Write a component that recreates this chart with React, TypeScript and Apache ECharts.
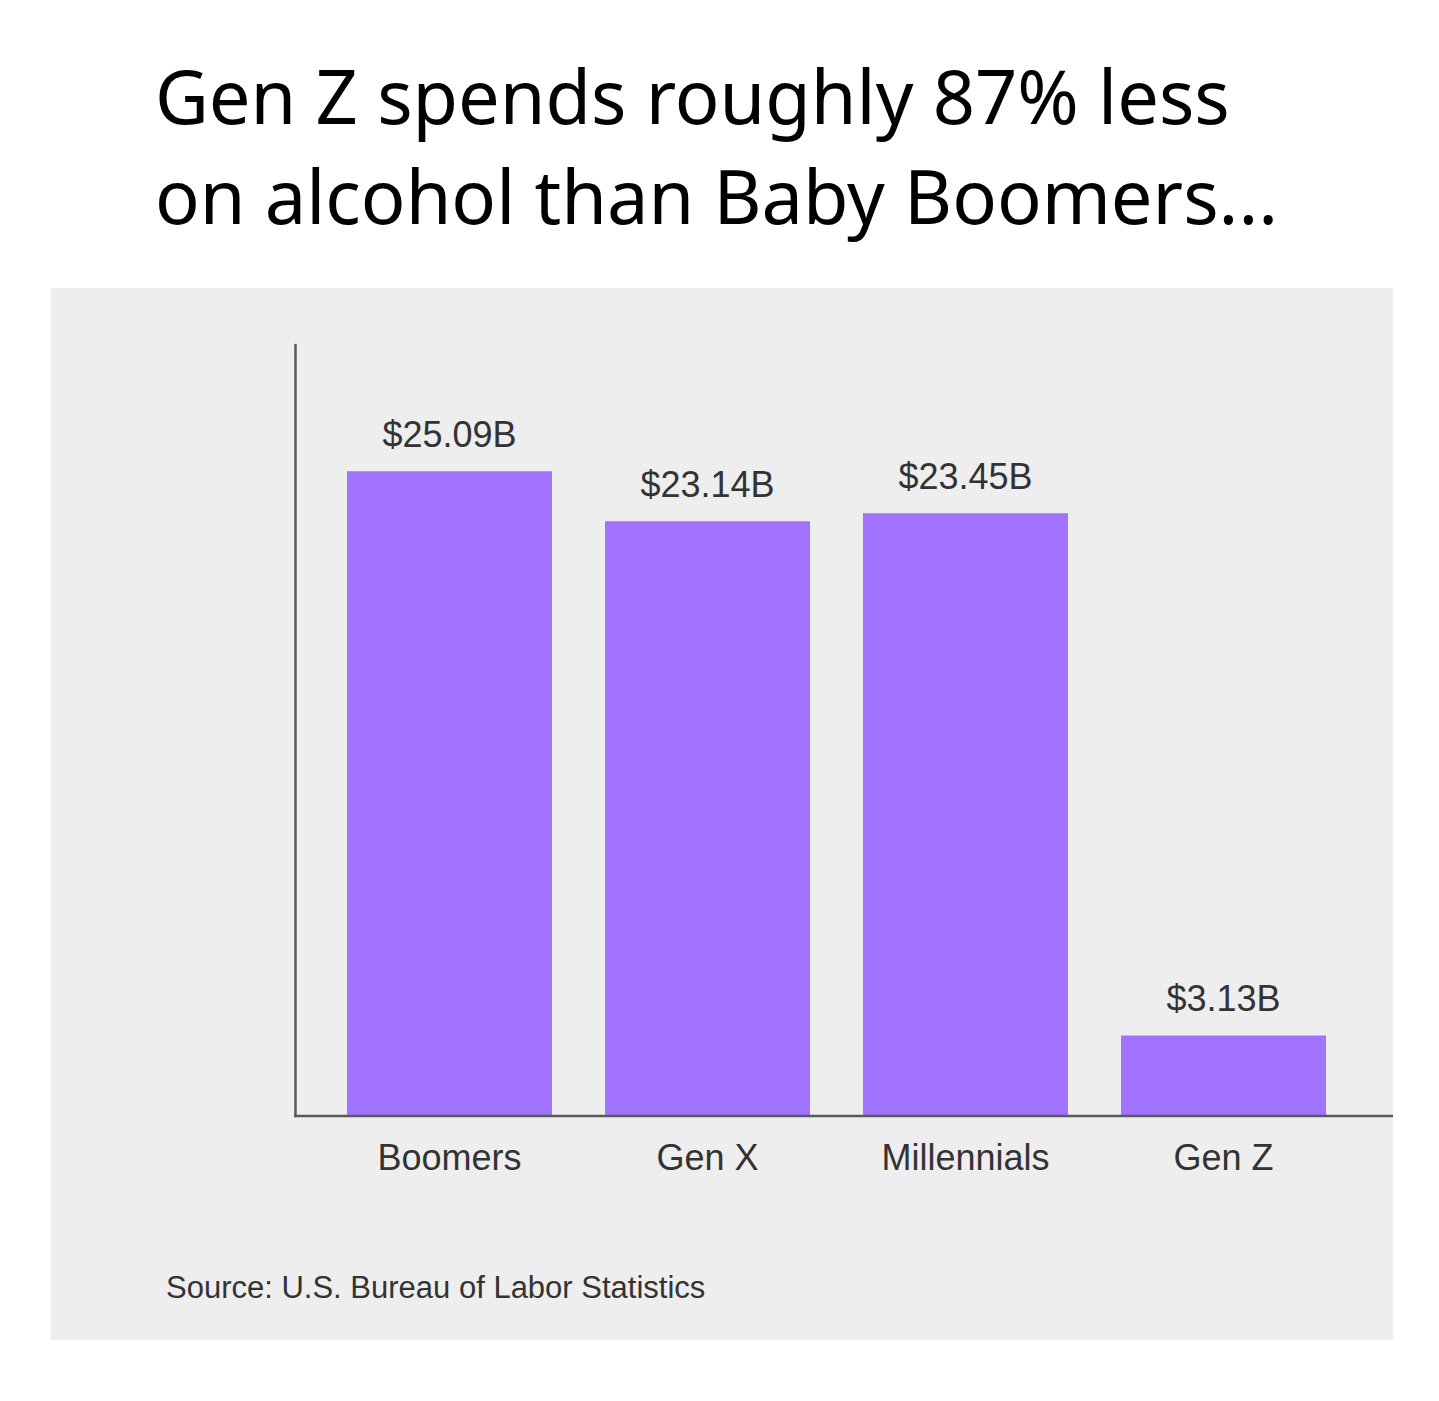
import React, { useEffect, useRef } from "react";
import * as echarts from "echarts";

const categories = ["Boomers", "Gen X", "Millennials", "Gen Z"];
const spending = [25.09, 23.14, 23.45, 3.13];
const titleLines = ["Gen Z spends roughly 87% less", "on alcohol than Baby Boomers..."];
const sourceText = "Source: U.S. Bureau of Labor Statistics";

export default function App() {
  const ref = useRef<HTMLDivElement>(null);
  useEffect(() => {
    if (!ref.current) return;
    const chart = echarts.init(ref.current, null, { renderer: "svg" });
    const axisColor = "#595959";
    chart.setOption({
      animation: false,
      backgroundColor: "#ffffff",
      title: {
        text: titleLines.join("\n"),
        left: 150,
        top: 40,
        textStyle: {
          fontFamily: "Noto Sans",
          fontSize: 74,
          fontWeight: "normal",
          color: "#000000",
          lineHeight: 100,
        },
      },
      graphic: [
        {
          type: "rect",
          z: -10,
          silent: true,
          shape: { x: 51, y: 288, width: 1342, height: 1052 },
          style: { fill: "#eeeeee" },
        },
        {
          type: "line",
          z: 10,
          silent: true,
          shape: { x1: 294, y1: 1116, x2: 1393, y2: 1116 },
          style: { stroke: axisColor, lineWidth: 2.5 },
        },
        {
          type: "text",
          x: 166,
          y: 1287,
          style: {
            text: sourceText,
            fontFamily: "Liberation Sans",
            fontSize: 31,
            fill: "#333333",
            verticalAlign: "middle",
          },
        },
      ],
      grid: { left: 320.5, width: 1032, top: 345, height: 771 },
      xAxis: {
        type: "category",
        data: categories,
        axisLine: { show: false },
        axisTick: { show: false },
        axisLabel: {
          fontFamily: "Liberation Sans",
          fontSize: 36,
          color: "#333333",
          margin: 23,
        },
      },
      yAxis: {
        type: "value",
        min: 0,
        max: 30,
        offset: 25.5,
        axisLine: { show: true, lineStyle: { color: axisColor, width: 2.5 } },
        axisTick: { show: false },
        axisLabel: { show: false },
        splitLine: { show: false },
      },
      series: [
        {
          type: "bar",
          data: spending,
          barWidth: 205,
          itemStyle: { color: "#a172fe" },
          label: {
            show: true,
            position: "top",
            distance: 19,
            fontFamily: "Liberation Sans",
            fontSize: 36,
            color: "#333333",
            formatter: (p: any) => `$${Number(p.value).toFixed(2)}B`,
          },
        },
      ],
    });
    return () => chart.dispose();
  }, []);
  return (
    <div
      ref={ref}
      style={{ position: "absolute", left: 0, top: 0, width: 1439, height: 1401 }}
    />
  );
}
